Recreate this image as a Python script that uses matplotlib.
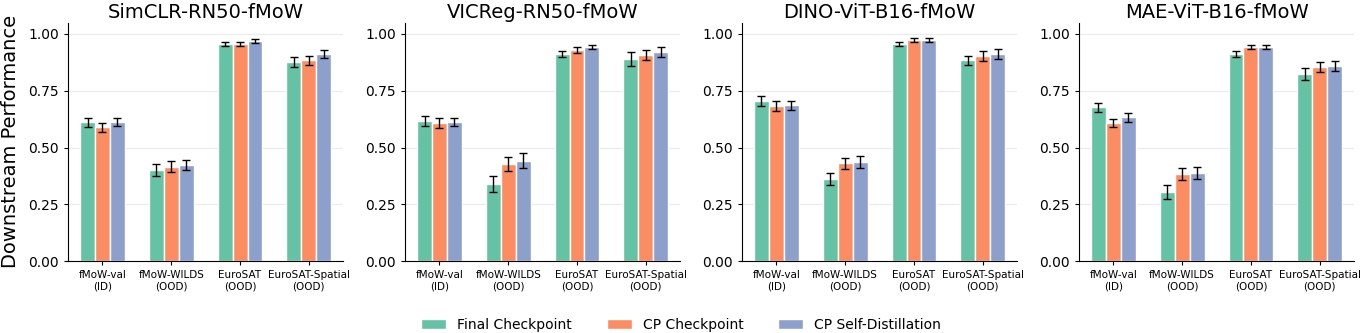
import numpy as np
import matplotlib
matplotlib.use("Agg")
import matplotlib.pyplot as plt

models = ["SimCLR-RN50-fMoW", "VICReg-RN50-fMoW", "DINO-ViT-B16-fMoW", "MAE-ViT-B16-fMoW"]
datasets = ["fMoW-val\n(ID)", "fMoW-WILDS\n(OOD)", "EuroSAT\n(OOD)", "EuroSAT-Spatial\n(OOD)"]
methods = ["Final Checkpoint", "CP Checkpoint", "CP Self-Distillation"]
colors = ["#66c2a5", "#fc8d62", "#8da0cb"]

# mean[model][method][dataset]
final_ckpt = [
    [0.612, 0.401, 0.956, 0.877],
    [0.617, 0.339, 0.912, 0.890],
    [0.705, 0.361, 0.956, 0.885],
    [0.677, 0.303, 0.912, 0.824],
]
cp_ckpt = [
    [0.590, 0.415, 0.956, 0.885],
    [0.607, 0.427, 0.930, 0.907],
    [0.683, 0.430, 0.974, 0.903],
    [0.607, 0.383, 0.943, 0.853],
]
cp_distill = [
    [0.612, 0.423, 0.969, 0.912],
    [0.612, 0.441, 0.943, 0.921],
    [0.687, 0.436, 0.974, 0.912],
    [0.634, 0.388, 0.943, 0.859],
]
final_err = [
    [0.020, 0.028, 0.010, 0.023],
    [0.020, 0.035, 0.015, 0.029],
    [0.020, 0.027, 0.010, 0.020],
    [0.020, 0.030, 0.012, 0.025],
]
cp_err = [
    [0.020, 0.024, 0.010, 0.020],
    [0.022, 0.031, 0.012, 0.022],
    [0.020, 0.026, 0.010, 0.020],
    [0.018, 0.028, 0.010, 0.022],
]
distill_err = [
    [0.018, 0.023, 0.010, 0.017],
    [0.018, 0.033, 0.010, 0.022],
    [0.020, 0.025, 0.010, 0.020],
    [0.020, 0.025, 0.010, 0.020],
]

means = [final_ckpt, cp_ckpt, cp_distill]
errs = [final_err, cp_err, distill_err]

fig = plt.figure(figsize=(13.62, 3.33), dpi=100)
x = np.arange(len(datasets))
w = 0.217

handles = []
for m in range(len(models)):
    ax = fig.add_axes([0.050 + m * 0.2474, 0.216, 0.202, 0.716])
    for k in range(len(methods)):
        b = ax.bar(x + (k - 1) * w, means[k][m], w, yerr=errs[k][m],
                   color=colors[k], edgecolor="white", linewidth=1,
                   capsize=3, error_kw=dict(elinewidth=1, capthick=1, ecolor="black"),
                   label=methods[k], zorder=2)
        if m == 0:
            handles.append(b)
    ax.set_xlim(-0.5, 3.5)
    ax.set_ylim(0, 1.05)
    ax.set_yticks([0, 0.25, 0.5, 0.75, 1.0])
    ax.set_yticklabels(["0.00", "0.25", "0.50", "0.75", "1.00"], fontsize=10)
    ax.set_xticks(x)
    ax.set_xticklabels(datasets, fontsize=7.5)
    ax.grid(axis="y", color="#ebebeb", linewidth=0.8, zorder=0)
    ax.set_axisbelow(True)
    for s in ["top", "right"]:
        ax.spines[s].set_visible(False)
    ax.tick_params(axis="both", length=3, width=0.8)
    ax.set_title(models[m], fontsize=14, pad=3)
    if m == 0:
        ax.set_ylabel("Downstream Performance", fontsize=14, labelpad=6)

fig.legend(handles, methods, loc="lower center", ncol=3, frameon=False,
           fontsize=10, bbox_to_anchor=(0.5, -0.035), columnspacing=2.5,
           handlelength=1.8)

fig.savefig("out.png", dpi=100)
